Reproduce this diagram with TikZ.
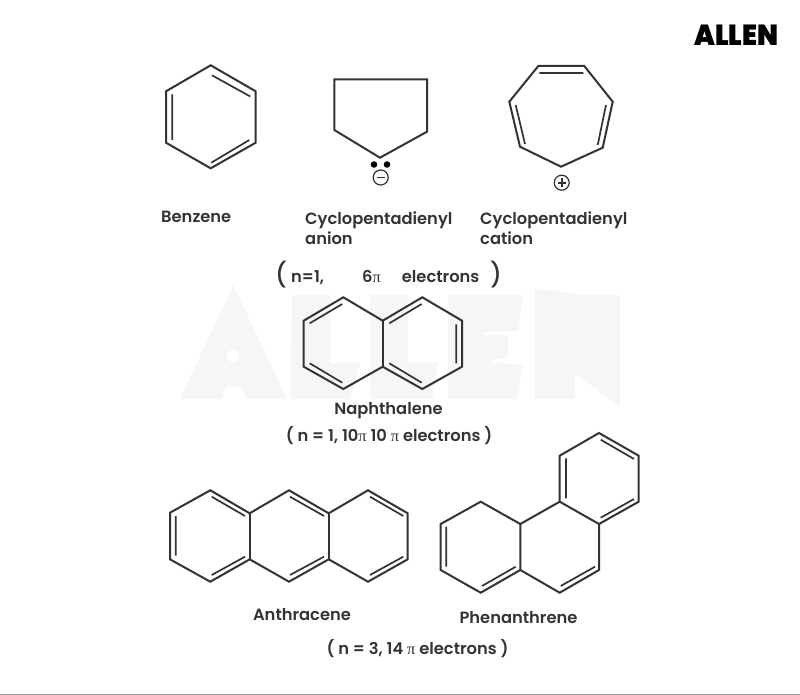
\documentclass[tikz,border=0pt]{standalone}
\usepackage{fontspec}
\setmainfont{Poppins SemiBold}
\newfontfamily\parenfont{Poppins Medium}
\newfontfamily\logofont{Poppins Black}
\newfontfamily\pifont{Liberation Serif}
\newcommand{\uppi}{{\pifont π}}
\definecolor{ink}{HTML}{333333}
\definecolor{wm}{HTML}{F6F6F6}
\tikzset{
  bond/.style={draw=ink,line width=2pt,line join=miter},
  inner/.style={draw=ink,line width=1.7pt},
  lbl/.style={anchor=base west,inner sep=0pt,text=ink,font=\fontsize{16.3}{18}\selectfont},
  clbl/.style={anchor=base,inner sep=0pt,text=ink,font=\fontsize{16.3}{18}\selectfont},
  paren/.style={anchor=base,inner sep=0pt,text=ink,font=\parenfont\fontsize{24}{28}\selectfont},
  charge/.style={circle,draw=ink,line width=1.2pt,minimum size=15pt,inner sep=0pt}
}
\begin{document}
\begin{tikzpicture}[x=1pt,y=-1pt]
\useasboundingbox (0,0) rectangle (800,695);
% bottom rule
\fill[gray!85] (0,693.6) rectangle (800,695);
% watermark
\fill[wm,even odd rule] (233.3,285) -- (287,399) -- (247,399) -- (241,387) -- (226,387) -- (222,399) -- (180,399) -- cycle (238.7,356) arc[start angle=0,end angle=360,radius=6];
\fill[wm] (292,295) -- (330,295) -- (330,363) -- (360,363) -- (350,399) -- (290,399) -- cycle;
\fill[wm] (370,295) -- (408,295) -- (408,363) -- (438,363) -- (432,399) -- (370,399) -- cycle;
\fill[wm] (448,295) -- (523,295) -- (518,331) -- (485,332) -- (485,335) -- (508,335) -- (508,357) -- (485,362) -- (523,365) -- (517,399) -- (448,399) -- cycle;
\fill[wm] (535,288) -- (582,295) -- (620,295) -- (620,408) -- (575,373) -- (575,399) -- (535,399) -- cycle;
% benzene
\draw[bond] (210.7,65.3) -- (255.7,91.3) -- (255.7,142.7) -- (210.7,168.3) -- (166,142.7) -- (166,91.3) -- cycle;
\draw[inner] (212,75.3) -- (250.3,96.5) (172.3,94.3) -- (172.3,140) (211.3,162.7) -- (249.3,140);
% anion
\draw[bond] (334.3,79.3) -- (427,79.3) -- (427,131.7) -- (380,157.7) -- (334.3,130) -- cycle;
\fill[black] (374,164.5) circle (3.3) (387,164.5) circle (3.3);
\node[charge] (minus) at (380.7,177.5) {};
\draw[ink,line width=1.9pt] (376.5,177.5) -- (385,177.5);
% cation
\draw[bond] (538.3,66) -- (584.3,66) -- (612.7,101.7) -- (602.7,147.7) -- (561,166.7) -- (520,146.7) -- (509.3,101.7) -- cycle;
\draw[inner] (539.3,73) -- (583.3,73) (515.7,105) -- (525,144) (606,105) -- (597.7,145);
\node[charge] (plus) at (561.7,182.7) {};
\draw[ink,line width=1.9pt] (557.5,182.7) -- (566,182.7) (561.7,178.5) -- (561.7,187);
% naphthalene
\draw[bond] (343.3,297.3) -- (382.7,320.7) -- (422.3,297.3) -- (462,320.7) -- (462,366.7) -- (422.3,389) -- (382.7,366.7) -- (343.3,389) -- (303.7,366.7) -- (303.7,320.7) -- cycle;
\draw[bond] (382.7,320.7) -- (382.7,366.7);
\draw[inner] (309.7,323.3) -- (342.3,304) (309.7,363.3) -- (342.3,382.7) (389.3,323.3) -- (421.7,304) (389.3,363.3) -- (421.7,382.7) (456.3,324.3) -- (456.3,363.3);
% anthracene
\draw[bond] (170,512.7) -- (210.3,490.3) -- (249.7,513.3) -- (289,490.3) -- (328.7,513.3) -- (368,490.3) -- (407.7,513.3) -- (407.7,559.3) -- (368,581.7) -- (328.7,559.3) -- (289,581.7) -- (249.7,559.3) -- (210.3,581.7) -- (170,559.3) -- cycle;
\draw[bond] (249.7,513.3) -- (249.7,559.3) (328.7,513.3) -- (328.7,559.3);
\draw[inner] (175.7,516) -- (175.7,555.7) (211.7,496.7) -- (245,516) (211.7,575) -- (245,556.7) (290,496.7) -- (324,516) (290,575) -- (324,556.7) (370,496.7) -- (403.3,516) (370,575) -- (403.3,556.7);
% phenanthrene
\draw[bond] (480.7,501.7) -- (520.3,524) -- (559.7,501.7) -- (559.7,455.7) -- (599,433) -- (638.7,455.7) -- (638.7,501.7) -- (599,524) -- (599,570) -- (559.7,592.7) -- (520.3,570) -- (480.7,592.7) -- (440.7,570) -- (440.7,524) -- cycle;
\draw[bond] (520.3,524) -- (520.3,570) (559.7,501.7) -- (599,524);
\draw[inner] (446.3,526.7) -- (446.3,566.7) (482,586) -- (515.7,566.7) (560.7,586) -- (595,566.7) (566,458.3) -- (566,498.3) (600.7,439.7) -- (634,459) (600.7,517.7) -- (634,499);
% logo
\node[anchor=base,inner sep=0pt,text=black,xscale=0.93,font=\logofont\fontsize{29}{30}\selectfont] (logo) at (736.5,45.5) {ALLEN};
% labels
\node[lbl] (benzene) at (161,222.5) {Benzene};
\node[lbl] (anion1) at (305,224) {Cyclopentadienyl};
\node[lbl] (anion2) at (305,244) {anion};
\node[lbl] (cation1) at (480,224) {Cyclopentadienyl};
\node[lbl] (cation2) at (480,244) {cation};
\node[paren] (lp) at (281,283) {(};
\node[lbl] (n1) at (291,282.7) {n=1,};
\node[lbl] (six) at (362,282.7) {6\uppi};
\node[lbl] (el) at (401.7,282.7) {electrons};
\node[paren] (rp) at (496,283) {)};
\node[clbl] (naph) at (388.5,414) {Naphthalene};
\node[clbl] (naphn) at (389,441) {( n = 1, 10\uppi\ 10 \uppi\ electrons )};
\node[clbl] (anth) at (302,620.7) {Anthracene};
\node[clbl] (phen) at (518.5,623.3) {Phenanthrene};
\node[clbl] (last) at (417.5,654) {( n = 3, 14 \uppi\ electrons )};
\end{tikzpicture}
\end{document}
